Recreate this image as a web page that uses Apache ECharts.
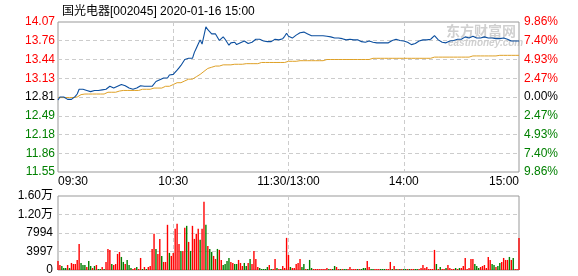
<!DOCTYPE html>
<html><head><meta charset="utf-8">
<script src="https://cdn.jsdelivr.net/npm/echarts/dist/echarts.min.js"></script>
<style>html,body{margin:0;padding:0;background:#fff}#c{width:578px;height:276px}</style>
</head><body><div id="c"></div>
<script>
const titleText = '国光电器[002045] 2020-01-16 15:00';
const timeLabels = ['09:30', '10:30', '11:30/13:00', '14:00', '15:00'];
const priceLabels = ['11.55', '11.86', '12.18', '12.49', '12.81', '13.13', '13.44', '13.76', '14.07'];
const pctLabels = ['9.86%', '7.40%', '4.93%', '2.47%', '0.00%', '2.47%', '4.93%', '7.40%', '9.86%'];
const volLabels = ['0', '3997', '7994', '1.20万', '1.60万'];
const priceMin = 11.55, priceMax = 14.07, priceStep = 0.315;
const volMax = 15988, volStep = 3997;

const price = [
12.76,12.81,12.82,12.81,12.79,12.77,12.77,12.77,12.78,12.82,
12.86,12.94,12.94,12.94,12.93,12.92,12.92,12.90,12.92,12.92,
12.91,12.92,12.93,12.93,12.94,12.94,12.95,12.99,12.99,12.96,
12.99,12.99,13.01,13.02,13.01,13.00,12.99,12.96,12.95,12.94,
12.95,12.96,12.99,13.00,13.00,12.99,12.99,12.99,12.99,12.99,
13.02,13.07,13.09,13.10,13.12,13.13,13.13,13.13,13.18,13.19,
13.19,13.19,13.26,13.30,13.34,13.32,13.44,13.45,13.46,13.45,
13.46,13.56,13.63,13.70,13.77,13.70,13.72,13.99,13.94,13.97,
13.87,13.85,13.87,13.85,13.76,13.76,13.82,13.78,13.73,13.68,
13.72,13.75,13.73,13.69,13.69,13.72,13.74,13.75,13.73,13.71,
13.72,13.73,13.75,13.78,13.78,13.78,13.76,13.75,13.74,13.74,
13.74,13.74,13.75,13.78,13.76,13.77,13.77,13.79,13.83,13.88,
13.83,13.82,13.80,13.83,13.85,13.86,13.89,13.92,13.90,13.89,
13.87,13.84,13.84,13.84,13.84,13.83,13.84,13.85,13.84,13.84,
13.83,13.82,13.82,13.82,13.80,13.79,13.80,13.80,13.79,13.77,
13.77,13.77,13.78,13.78,13.77,13.77,13.77,13.76,13.74,13.72,
13.73,13.75,13.75,13.73,13.73,13.72,13.72,13.72,13.72,13.72,
13.72,13.72,13.72,13.74,13.76,13.78,13.78,13.77,13.76,13.75,
13.75,13.74,13.73,13.71,13.69,13.69,13.71,13.73,13.75,13.76,
13.77,13.78,13.77,13.77,13.78,13.80,13.84,13.82,13.77,13.75,
13.73,13.73,13.72,13.74,13.75,13.75,13.76,13.77,13.78,13.77,
13.78,13.80,13.82,13.82,13.80,13.82,13.83,13.82,13.80,13.80,
13.80,13.80,13.82,13.82,13.80,13.80,13.80,13.80,13.79,13.80,
13.79,13.80,13.80,13.80,13.78,13.77,13.75,13.75,13.75,13.75,
13.75];

const avgPrice = [
12.80,12.80,12.80,12.80,12.80,12.80,12.80,12.80,12.80,12.80,
12.81,12.83,12.85,12.86,12.86,12.86,12.86,12.86,12.86,12.86,
12.86,12.86,12.86,12.86,12.86,12.87,12.89,12.89,12.89,12.89,
12.89,12.91,12.91,12.91,12.92,12.92,12.92,12.92,12.92,12.92,
12.92,12.92,12.92,12.94,12.94,12.94,12.94,12.94,12.94,12.94,
12.96,12.96,12.96,12.96,12.96,12.99,12.99,12.99,12.99,13.02,
13.02,13.02,13.05,13.05,13.05,13.08,13.08,13.08,13.11,13.11,
13.11,13.13,13.15,13.17,13.19,13.21,13.24,13.27,13.29,13.30,
13.31,13.32,13.33,13.33,13.33,13.35,13.35,13.35,13.35,13.35,
13.35,13.36,13.36,13.36,13.36,13.36,13.36,13.36,13.37,13.37,
13.37,13.37,13.37,13.37,13.37,13.39,13.39,13.39,13.39,13.39,
13.39,13.39,13.39,13.39,13.39,13.39,13.39,13.39,13.39,13.41,
13.41,13.41,13.41,13.41,13.41,13.42,13.42,13.42,13.42,13.42,
13.42,13.42,13.42,13.42,13.42,13.42,13.42,13.42,13.42,13.44,
13.44,13.44,13.44,13.44,13.44,13.44,13.44,13.44,13.44,13.44,
13.44,13.44,13.44,13.44,13.44,13.44,13.44,13.44,13.44,13.44,
13.44,13.44,13.44,13.46,13.46,13.46,13.46,13.46,13.46,13.46,
13.46,13.46,13.46,13.46,13.46,13.46,13.46,13.46,13.46,13.46,
13.46,13.46,13.46,13.46,13.46,13.46,13.46,13.46,13.46,13.46,
13.46,13.46,13.46,13.46,13.46,13.48,13.48,13.48,13.48,13.48,
13.48,13.48,13.48,13.48,13.48,13.48,13.48,13.48,13.48,13.48,
13.48,13.48,13.48,13.48,13.48,13.50,13.50,13.50,13.50,13.50,
13.50,13.50,13.50,13.50,13.50,13.50,13.50,13.50,13.50,13.51,
13.51,13.51,13.51,13.51,13.51,13.51,13.51,13.51,13.51,13.51,
13.51];

const volume = [
1950,1080,870,430,430,1080,430,1520,1300,1300,
2170,5640,1520,1080,1080,650,1950,870,430,870,
1080,220,220,650,220,1740,4550,4340,1300,1080,
1300,3470,3900,2820,1740,1300,2170,1080,430,220,
430,650,220,2600,220,650,220,650,870,4550,
7810,4550,3470,6720,3040,1740,1740,9760,3690,3040,
3690,8890,9980,5640,4120,4120,9110,9540,6070,4120,
9540,6720,7810,8890,6510,8890,14750,9760,5210,4550,
3900,3040,2390,4550,4340,2170,1080,1300,1950,2600,
1740,1520,1300,1300,2170,1520,870,1520,870,1520,
2390,1300,4120,2390,650,430,220,220,220,650,
1080,220,220,2390,430,220,220,870,430,6940,
3250,650,430,430,1300,1520,2390,650,1300,220,
220,2170,430,220,220,220,220,220,220,220,
430,220,220,220,870,650,220,220,220,220,
220,220,650,220,220,220,220,220,220,430,
430,1950,650,220,220,220,220,220,220,220,
220,220,220,1740,220,870,220,220,220,220,
220,220,220,220,220,220,220,220,220,430,
1080,430,650,220,220,220,4340,1300,220,650,
220,220,430,1080,430,220,220,430,220,430,
430,870,2600,220,430,2390,2390,1300,870,430,
650,870,1080,430,2820,2170,1300,1080,650,870,
1520,1740,2600,2170,2170,2820,2170,2600,220,220,
6940];

// 1 = traded up (red), 0 = traded down (green)
const volUp = [
1,1,0,0,0,1,0,1,1,1,
1,1,0,0,0,1,0,0,1,0,
1,0,0,1,0,1,1,1,0,1,
1,1,1,0,0,1,0,0,0,1,
1,0,1,1,0,1,0,1,1,1,
1,0,1,1,0,1,1,1,0,1,
1,1,1,1,0,1,1,0,1,0,
1,1,1,1,0,1,1,0,1,0,
0,1,1,0,1,1,0,0,0,0,
1,1,0,0,1,1,1,0,0,1,
0,1,1,1,1,0,0,0,0,0,
1,0,1,1,0,1,0,1,1,1,
1,0,1,1,1,1,1,0,0,1,
0,0,0,1,1,1,1,1,1,1,
1,0,1,0,0,1,1,0,1,0,
0,1,1,1,1,1,0,1,0,0,
0,1,1,0,0,1,1,1,0,0,
0,1,1,1,0,1,0,1,0,1,
0,0,1,0,1,1,0,0,1,1,
1,1,1,1,1,1,1,0,1,0,
1,1,0,1,1,1,1,0,1,0,
1,1,1,1,1,1,1,0,0,0,
1,1,1,1,1,1,0,0,1,0,
0,1,1,1,1,0,1,0,1,1,
1];

const FONT = "'Liberation Sans', 'Noto Sans CJK SC', sans-serif";
const RED = '#ff0000', GREEN = '#008000', BLACK = '#000000';
const dashed = { show: true, showMinLine: false, showMaxLine: false,
  lineStyle: { color: '#cccccc', width: 1, type: [4, 3] } };

const stepIndex = v => Math.round((v - priceMin) / priceStep);
const levelColor = v => { const k = stepIndex(v); return k > 4 ? RED : (k < 4 ? GREEN : BLACK); };

const chart = echarts.init(document.getElementById('c'));
chart.setOption({
  animation: false,
  backgroundColor: '#ffffff',
  title: { text: titleText, left: 57, top: 1,
    textStyle: { fontSize: 12, fontWeight: 'normal', color: '#000', fontFamily: FONT } },
  graphic: [
    { type: 'text', left: 446, top: 24, z: 0, silent: true,
      style: { text: '东方财富网', fontSize: 14, fontWeight: 'bold', fill: 'rgba(170,170,170,0.55)', fontFamily: "'Noto Sans CJK SC', sans-serif" } },
    { type: 'text', left: 448, top: 38, z: 0, silent: true,
      style: { text: 'eastmoney.com', fontSize: 10, fontWeight: 'bold', fontStyle: 'italic', fill: 'rgba(170,170,170,0.55)', fontFamily: FONT } }
  ],
  grid: [
    { left: 58, top: 22, width: 461, height: 150, show: true, borderColor: '#999999', borderWidth: 1, backgroundColor: 'transparent' },
    { left: 58, top: 196, width: 461, height: 74, show: true, borderColor: '#999999', borderWidth: 1, backgroundColor: 'transparent' }
  ],
  xAxis: [
    { type: 'value', gridIndex: 0, min: 0, max: 240, interval: 60,
      axisLine: { show: false }, axisTick: { show: false }, splitLine: dashed,
      axisLabel: { formatter: v => timeLabels[Math.round(v / 60)], margin: 4, fontSize: 12, color: '#000',
        fontFamily: FONT, alignMinLabel: 'left', alignMaxLabel: 'right' } },
    { type: 'value', gridIndex: 1, min: 0, max: 240, interval: 60,
      axisLine: { show: false }, axisTick: { show: false }, splitLine: dashed, axisLabel: { show: false } }
  ],
  yAxis: [
    { type: 'value', gridIndex: 0, position: 'left', min: priceMin, max: priceMax, interval: priceStep,
      axisLine: { show: false }, axisTick: { show: false }, splitLine: dashed,
      axisLabel: { margin: 3, fontSize: 12, fontFamily: FONT, color: v => levelColor(v),
        formatter: v => priceLabels[stepIndex(v)] } },
    { type: 'value', gridIndex: 0, position: 'right', min: priceMin, max: priceMax, interval: priceStep,
      axisLine: { show: false }, axisTick: { show: false }, splitLine: { show: false },
      axisLabel: { margin: 5, fontSize: 12, fontFamily: FONT, color: v => levelColor(v),
        formatter: v => pctLabels[8 - stepIndex(v)] } },
    { type: 'value', gridIndex: 1, position: 'left', min: 0, max: volMax, interval: volStep,
      axisLine: { show: false }, axisTick: { show: false }, splitLine: dashed,
      axisLabel: { margin: 5, fontSize: 12, fontFamily: FONT, color: '#000',
        formatter: v => volLabels[Math.round(v / volStep)] } }
  ],
  series: [
    { name: '均价', type: 'line', xAxisIndex: 0, yAxisIndex: 0, showSymbol: false, z: 3,
      lineStyle: { color: '#dfa127', width: 1 }, itemStyle: { color: '#dfa127' },
      data: avgPrice.map((v, i) => [i, v]) },
    { name: '价格', type: 'line', xAxisIndex: 0, yAxisIndex: 0, showSymbol: false, z: 4,
      lineStyle: { color: '#0c4f9f', width: 1.1 }, itemStyle: { color: '#0c4f9f' },
      data: price.map((v, i) => [i, v]) },
    { name: '成交量', type: 'bar', xAxisIndex: 1, yAxisIndex: 2, barWidth: 1.4, z: 3,
      itemStyle: { color: p => volUp[p.dataIndex] ? RED : GREEN },
      data: volume.map((v, i) => [i, v]) }
  ]
});
</script>
</body></html>
